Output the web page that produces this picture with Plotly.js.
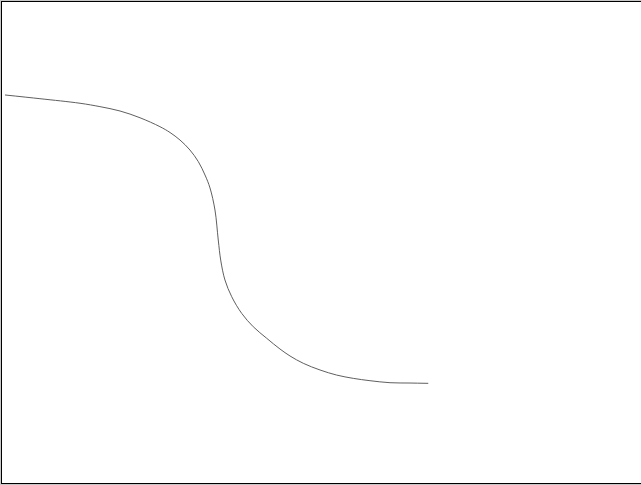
<!DOCTYPE html>
<html>
<head>
<meta charset="utf-8">
<script src="https://cdn.plot.ly/plotly-3.0.1.min.js"></script>
<style>
  html, body { margin: 0; padding: 0; overflow: hidden; background: #c8c8c8; }
  #chart { width: 660px; height: 485px; }
</style>
</head>
<body>
<div id="chart"></div>
<script>
// ------------------------------------------------------------------------------
// DATA (1 unit ~ 106 px)

const xs = [-2.000, -1.670, -1.292, -1.104, -0.915, -0.726, -0.538, -0.443, -0.349, -0.255,
            -0.176, -0.113, -0.066, -0.019, 0.012, 0.035, 0.075, 0.139, 0.233, 0.342,
            0.469, 0.594, 0.689, 0.814, 0.972, 1.129, 1.286, 1.443, 1.632, 1.821, 1.993];
const ys = [1.368, 1.333, 1.290, 1.258, 1.217, 1.153, 1.069, 1.014, 0.943, 0.849,
            0.739, 0.613, 0.491, 0.283, 0.000, -0.189, -0.377, -0.535, -0.692, -0.818,
            -0.927, -1.028, -1.094, -1.163, -1.226, -1.274, -1.305, -1.327, -1.346, -1.349, -1.352];

// ------------------------------------------------------------------------------
// PLOT

const curve = {
    x: xs,
    y: ys,
    mode: 'lines',
    type: 'scatter',
    line: { color: 'rgb(95,95,95)', width: 1, shape: 'spline', smoothing: 1 },
    hoverinfo: 'none'
};

const axisBase = {
    showgrid: false,
    zeroline: false,
    ticks: '',
    showticklabels: false,
    showline: true,
    mirror: true,
    linecolor: '#000000',
    linewidth: 1,
    fixedrange: true
};

const layout = {
    width: 660,
    height: 485,
    showlegend: false,
    paper_bgcolor: '#c8c8c8',
    plot_bgcolor: '#ffffff',
    margin: { l: 2, r: 0, t: 2, b: 2, pad: 0 },
    xaxis: Object.assign({}, axisBase, { range: [-2.028, 4.179] }),
    yaxis: Object.assign({}, axisBase, { range: [-2.292, 2.245] })
};

Plotly.newPlot('chart', [curve], layout, { displayModeBar: false, staticPlot: true });
</script>
</body>
</html>
